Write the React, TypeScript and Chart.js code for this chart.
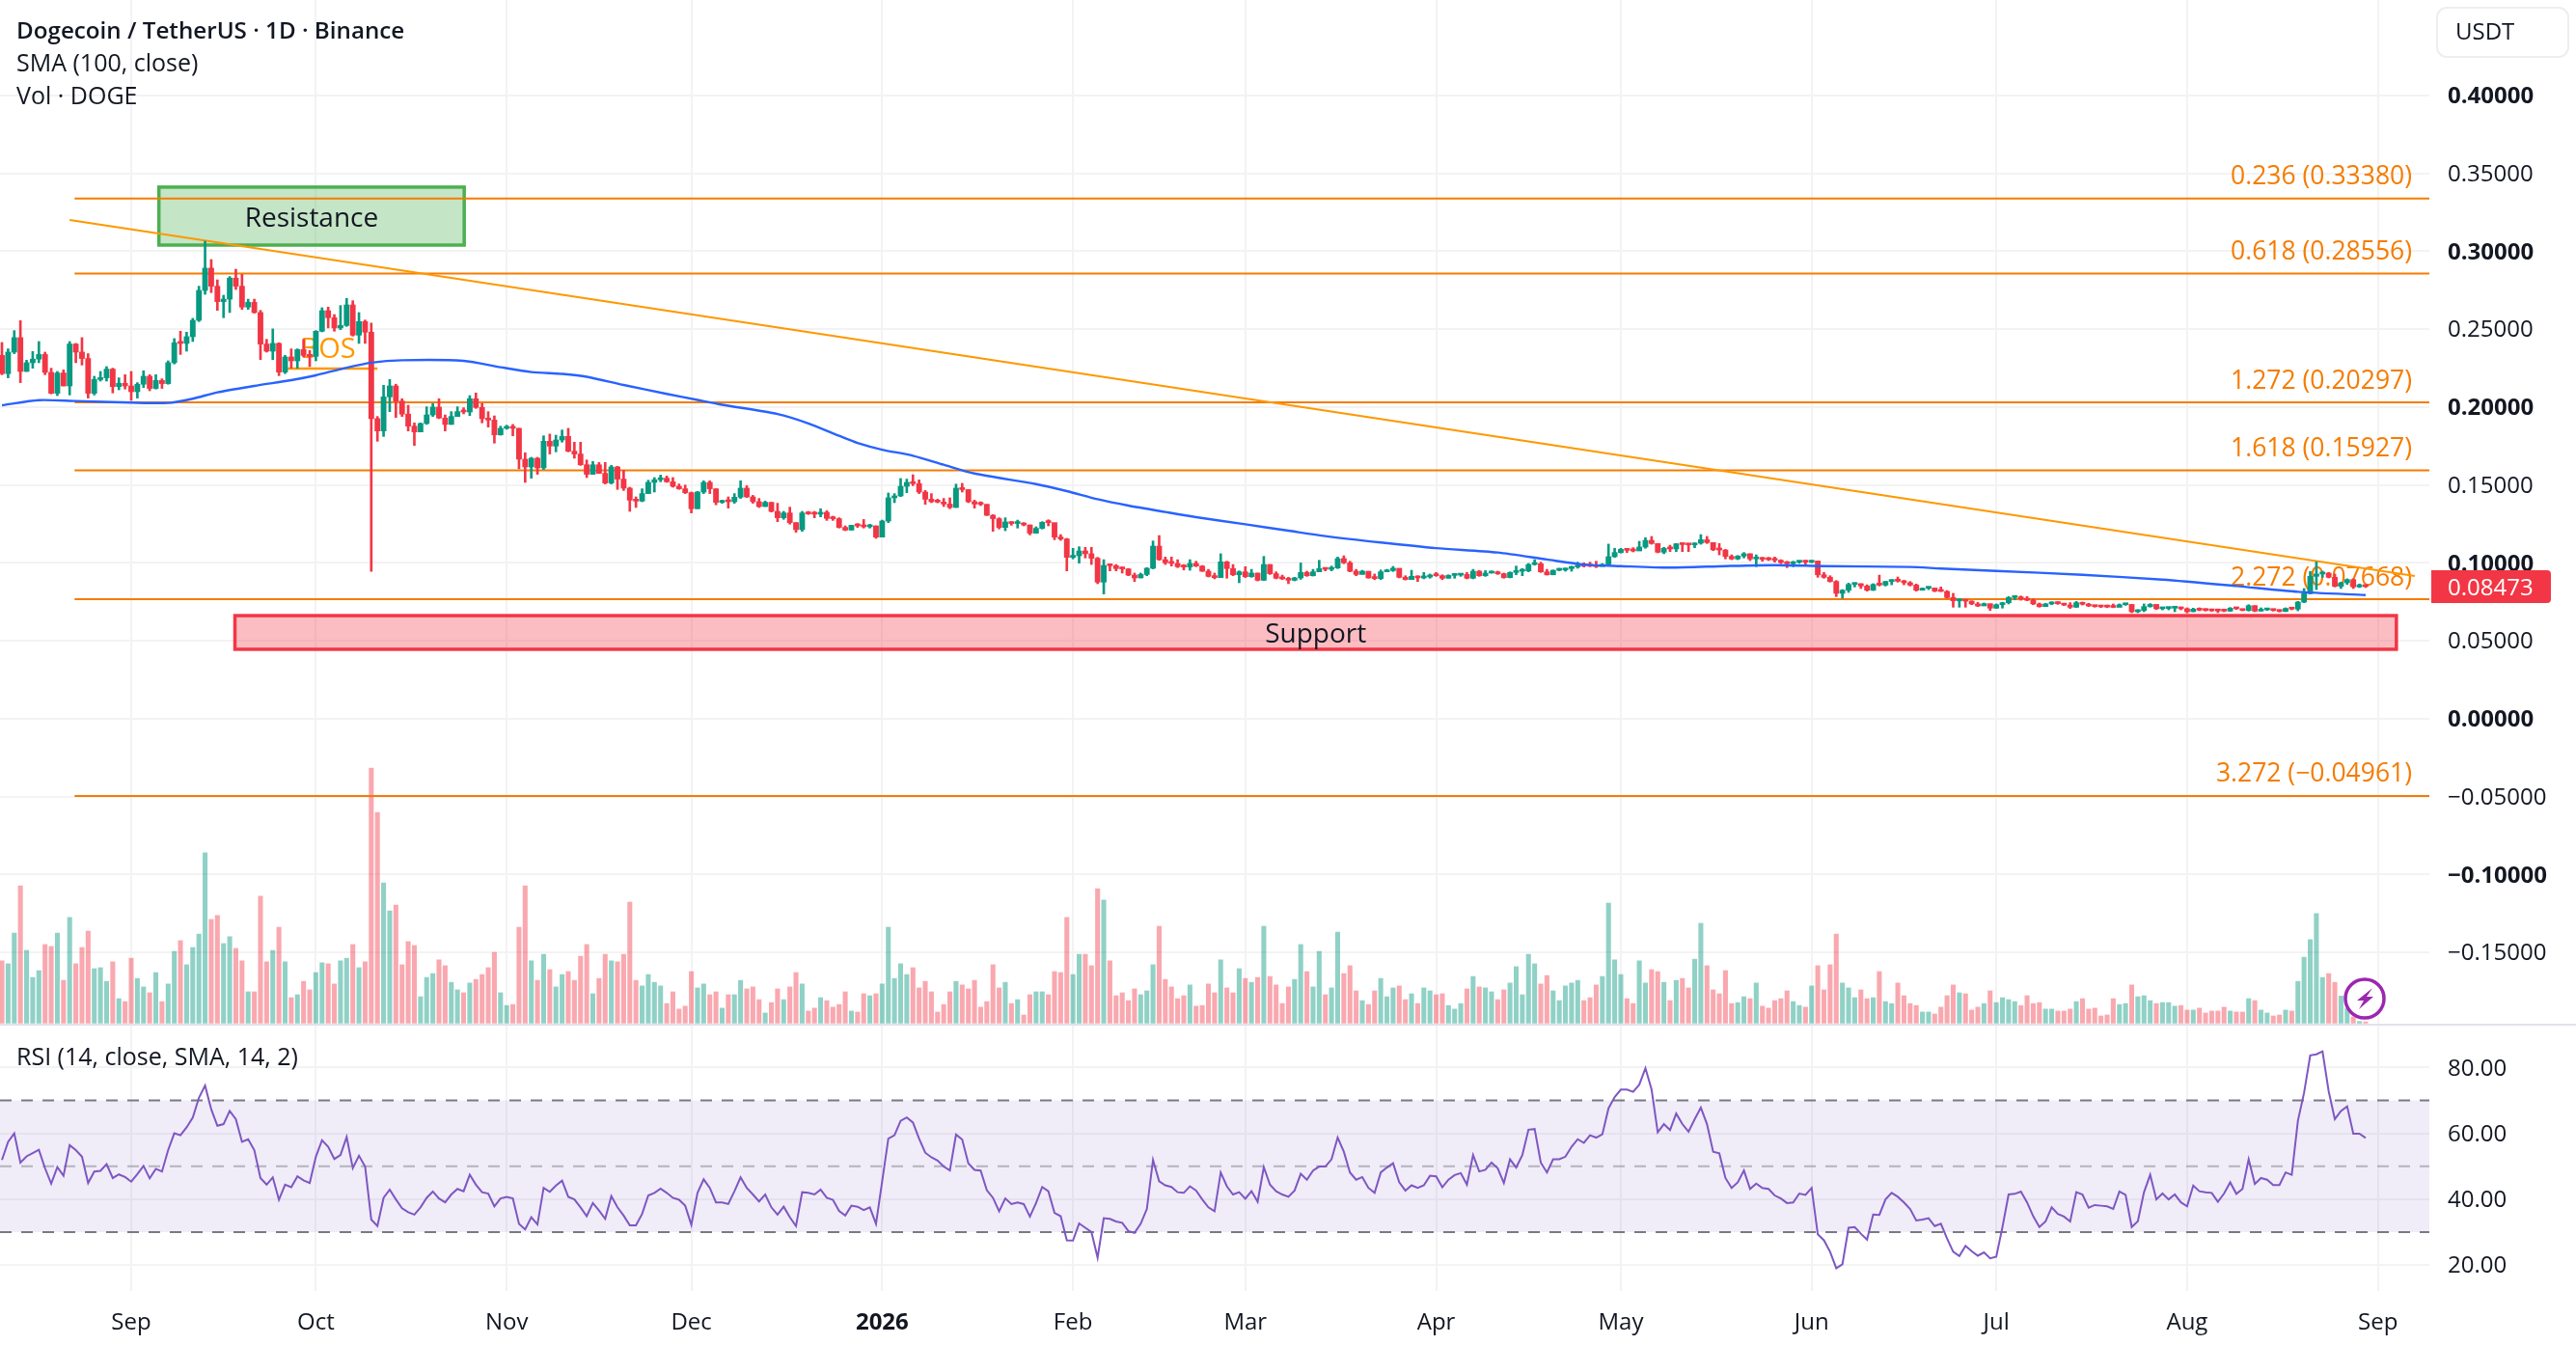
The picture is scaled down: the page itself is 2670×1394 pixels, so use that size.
import React, { useEffect, useRef } from "react";
import { Chart, registerables } from "chart.js";

Chart.register(...registerables);

// ---------- categories / ticks ----------
const firstDay = -21; // days relative to 1 Sep
const firstOpen = 0.2331;
const monthDays = [0, 30, 61, 91, 122, 153, 181, 212, 242, 273, 303, 334, 365];
const monthLabels = ["Sep", "Oct", "Nov", "Dec", "2026", "Feb", "Mar", "Apr", "May", "Jun", "Jul", "Aug", "Sep"];
const priceTicks = [0.4, 0.35, 0.3, 0.25, 0.2, 0.15, 0.1, 0.05, 0, -0.05, -0.1, -0.15];
const boldPriceTicks = [0.4, 0.3, 0.2, 0.1, 0, -0.1];
const rsiTicks = [80, 60, 40, 20];

// ---------- candles ----------
const closes = [
  .2214,.2352,.2445,.2228,.2284,.2307,.2337,.2222,.2088,.2218,.2135,.2404,.2352,.2311,.2088,.2176,.2187,.2243,.2131,.2152,.2135,
  .2098,.2146,.2197,.2119,.2170,.2150,.2284,.2412,.2408,.2451,.2556,.2748,.2891,.2775,.2676,.2692,.2827,.2775,.2641,.2672,
  .2606,.2404,.2358,.2408,.2224,.2321,.2296,.2368,.2331,.2325,.2486,.2618,.2573,.2507,.2523,.2655,.2461,.2548,.2480,.1925,
  .1846,.2065,.2135,.2038,.1954,.1877,.1840,.1894,.1949,.1999,.1929,.1888,.1939,.1970,.1968,.2053,.1997,.1925,.1916,.1821,
  .1863,.1873,.1863,.1665,.1615,.1671,.1609,.1780,.1749,.1788,.1811,.1716,.1698,.1629,.1568,.1629,.1574,.1512,.1615,.1537,
  .1479,.1402,.1396,.1444,.1516,.1533,.1543,.1520,.1491,.1475,.1450,.1347,.1454,.1516,.1475,.1388,.1396,.1392,.1421,.1479,
  .1423,.1392,.1361,.1388,.1330,.1289,.1320,.1258,.1213,.1320,.1314,
  .1312,.1324,.1285,.1283,.1227,.1210,.1241,.1237,.1231,.1237,.1165,.1268,.1417,.1429,.1491,.1516,.1508,.1454,.1408,.1392,
  .1390,.1377,.1355,.1479,.1470,.1392,.1377,.1375,.1305,.1283,.1227,.1262,.1252,.1254,.1243,.1190,.1221,.1260,.1258,.1165,
  .1153,.1035,.1045,.1076,.1058,.1029,.0876,.0983,.0981,.0963,.0961,.0921,.0903,.0925,.0965,.1107,.1020,.1000,.0996,.0975,
  .0973,.0996,.0979,.0946,.0913,.0905,.1006,.0963,.0923,.0942,.0911,.0934,.0888,.0989,.0930,.0901,.0897,.0888,.0903,.0938,
  .0917,.0942,.0963,.0958,.0967,.1027,.1000,.0946,.0925,.0946,.0903,.0899,.0942,.0950,.0965,.0907,.0892,.0913,.0903,.0909,
  .0921,.0917,.0901,.0919,.0921,.0925,.0901,.0946,.0917,.0934,.0942,.0930,.0905,.0938,.0946,.0948,.0989,.0994,.0942,.0923,
  .0952,.0954,.0963,.0973,.0985,.0979,.0978,.0975,.0990,.1039,.1066,
  .1086,.1080,.1076,.1101,.1144,.1124,.1068,.1093,.1089,.1122,.1117,.1115,.1126,.1148,.1130,.1084,.1082,.1041,.1025,.1043,
  .1058,.1025,.1033,.1022,.1020,.1016,.1002,.0994,.1004,.1010,.1004,.1012,.0923,.0907,.0880,.0804,.0824,.0861,.0866,.0851,
  .0824,.0861,.0857,.0880,.0890,.0882,.0872,.0857,.0824,.0837,.0839,.0818,.0816,.0777,.0756,.0762,.0754,.0736,.0723,.0738,
  .0709,.0731,.0744,.0777,.0779,.0769,.0760,.0736,.0719,.0736,.0746,.0738,.0729,.0715,.0744,.0734,.0723,.0719,.0717,.0716,
  .0714,.0731,.0733,.0686,.0694,.0719,.0733,.0705,.0707,.0709,.0711,.0705,.0686,.0703,.0696,.0694,.0692,.0691,.0690,.0709,
  .0705,.0694,.0725,.0690,.0698,.0700,.0694,.0688,.0707,.0703,.0748,.0802,.0913,.0928,.0934,.0907,.0849,.0872,.0892,.0845,
  .0859,.08473,
];
const highs = [
  .2414,.2373,.2490,.2554,.2300,.2356,.2420,.2352,.2249,.2228,.2238,.2420,.2408,.2445,.2342,.2197,.2228,.2259,.2249,.2187,.2207,
  .2228,.2156,.2232,.2207,.2207,.2181,.2296,.2439,.2486,.2480,.2569,.2775,.3064,.2946,.2816,.2717,.2837,.2884,.2851,.2692,
  .2692,.2620,.2434,.2501,.2412,.2331,.2373,.2373,.2434,.2362,.2490,.2637,.2641,.2593,.2651,.2697,.2682,.2606,.2558,.2538,
  .1939,.2139,.2176,.2146,.2053,.2011,.1898,.1898,.2001,.2022,.2053,.1949,.1970,.2001,.1995,.2073,.2090,.2022,.1970,.1943,
  .1877,.1883,.1888,.1863,.1706,.1677,.1677,.1815,.1826,.1819,.1852,.1863,.1774,.1774,.1660,.1650,.1644,.1644,.1625,.1619,
  .1594,.1485,.1423,.1475,.1530,.1547,.1563,.1557,.1547,.1506,.1499,.1454,.1458,.1526,.1526,.1475,.1402,.1423,.1444,.1526,
  .1495,.1433,.1413,.1396,.1388,.1382,.1330,.1357,.1258,.1330,.1330,
  .1330,.1347,.1334,.1299,.1289,.1237,.1241,.1252,.1278,.1247,.1237,.1274,.1448,.1444,.1541,.1537,.1565,.1532,.1464,.1444,
  .1408,.1413,.1417,.1505,.1510,.1466,.1402,.1392,.1375,.1309,.1289,.1289,.1264,.1274,.1258,.1243,.1231,.1264,.1276,.1252,
  .1181,.1157,.1093,.1103,.1099,.1099,.1035,.1020,.0989,.0989,.0973,.0963,.0934,.0934,.0969,.1140,.1175,.1037,.1037,.1020,
  .0989,.1020,.1010,.0983,.0958,.0934,.1058,.1010,.0989,.0948,.0975,.0958,.0934,.1041,.0989,.0942,.0921,.0907,.0907,.0999,
  .0946,.0958,.1016,.0969,.0979,.1037,.1045,.1010,.0958,.0952,.0942,.0928,.0954,.0958,.0977,.0958,.0917,.0952,.0917,.0938,
  .0928,.0938,.0923,.0923,.0928,.0928,.0938,.0958,.0950,.0950,.0948,.0946,.0934,.0942,.0979,.0963,.0996,.1020,.1004,.0958,
  .0954,.0965,.0965,.0979,.1004,.1000,.1004,.1010,.0995,.1120,.1093,
  .1093,.1093,.1097,.1138,.1161,.1169,.1124,.1099,.1113,.1124,.1124,.1124,.1128,.1181,.1169,.1130,.1124,.1086,.1051,.1047,
  .1066,.1058,.1051,.1035,.1035,.1037,.1020,.1010,.1010,.1014,.1016,.1016,.1010,.0938,.0917,.0886,.0828,.0870,.0872,.0866,
  .0859,.0866,.0921,.0882,.0892,.0909,.0888,.0880,.0864,.0839,.0843,.0839,.0845,.0822,.0804,.0769,.0762,.0756,.0746,.0742,
  .0731,.0736,.0746,.0783,.0789,.0787,.0783,.0769,.0742,.0740,.0750,.0750,.0738,.0744,.0752,.0748,.0740,.0727,.0727,.0729,
  .0736,.0736,.0738,.0731,.0700,.0736,.0738,.0731,.0713,.0715,.0717,.0713,.0711,.0709,.0711,.0705,.0703,.0703,.0703,.0713,
  .0711,.0700,.0731,.0725,.0711,.0707,.0703,.0698,.0711,.0709,.0752,.0835,.0944,.1006,.0946,.0938,.0928,.0876,.0897,.0897,
  .0864,.0859,
];
const lows = [
  .2207,.2187,.2342,.2156,.2228,.2249,.2284,.2207,.2084,.2073,.2135,.2077,.2284,.2269,.2057,.2077,.2166,.2166,.2090,.2110,.2115,
  .2042,.2057,.2125,.2104,.2115,.2119,.2146,.2276,.2337,.2358,.2420,.2548,.2723,.2734,.2620,.2573,.2606,.2754,.2626,.2626,
  .2602,.2304,.2352,.2304,.2201,.2214,.2249,.2249,.2321,.2259,.2296,.2482,.2507,.2486,.2496,.2517,.2455,.2408,.2408,.0945,
  .1780,.1811,.1970,.1933,.1939,.1846,.1753,.1840,.1888,.1939,.1925,.1846,.1888,.1939,.1956,.1945,.1991,.1898,.1871,.1768,
  .1819,.1857,.1815,.1603,.1516,.1543,.1568,.1599,.1698,.1712,.1774,.1712,.1671,.1625,.1547,.1568,.1574,.1506,.1506,.1471,
  .1464,.1330,.1355,.1392,.1444,.1454,.1520,.1516,.1485,.1471,.1444,.1320,.1347,.1444,.1444,.1372,.1382,.1351,.1382,.1413,
  .1419,.1382,.1355,.1361,.1326,.1264,.1279,.1248,.1196,.1202,.1310,
  .1289,.1295,.1272,.1272,.1223,.1206,.1210,.1227,.1223,.1223,.1157,.1165,.1258,.1386,.1425,.1450,.1495,.1444,.1375,.1386,
  .1385,.1361,.1347,.1355,.1454,.1386,.1351,.1367,.1303,.1202,.1217,.1206,.1241,.1223,.1237,.1179,.1190,.1217,.1237,.1148,
  .1144,.0948,.1025,.0998,.1031,.0989,.0866,.0800,.0948,.0948,.0934,.0917,.0880,.0903,.0917,.0961,.1016,.0989,.0979,.0969,
  .0954,.0952,.0975,.0944,.0909,.0897,.0905,.0901,.0917,.0872,.0905,.0907,.0884,.0886,.0925,.0897,.0892,.0866,.0884,.0894,
  .0913,.0915,.0952,.0948,.0948,.0963,.0994,.0942,.0917,.0928,.0901,.0892,.0892,.0942,.0944,.0903,.0890,.0905,.0880,.0897,
  .0901,.0913,.0892,.0901,.0901,.0913,.0897,.0897,.0913,.0913,.0934,.0925,.0901,.0903,.0923,.0917,.0942,.0985,.0938,.0921,
  .0923,.0948,.0946,.0946,.0965,.0973,.0975,.0969,.0983,.0983,.1035,
  .1062,.1066,.1070,.1078,.1093,.1119,.1064,.1058,.1072,.1072,.1072,.1072,.1097,.1119,.1124,.1078,.1051,.1025,.1020,.1020,
  .1031,.1014,.0975,.1010,.1014,.1004,.0994,.0969,.0975,.0996,.0989,.1000,.0907,.0901,.0876,.0783,.0773,.0810,.0845,.0835,
  .0818,.0822,.0851,.0851,.0859,.0876,.0859,.0851,.0818,.0824,.0828,.0814,.0816,.0773,.0715,.0715,.0715,.0731,.0719,.0725,
  .0694,.0707,.0709,.0736,.0762,.0760,.0756,.0731,.0715,.0721,.0731,.0733,.0725,.0707,.0713,.0729,.0719,.0715,.0713,.0712,
  .0712,.0721,.0727,.0680,.0680,.0686,.0715,.0700,.0698,.0698,.0686,.0698,.0678,.0686,.0692,.0690,.0688,.0680,.0686,.0688,
  .0700,.0692,.0690,.0686,.0690,.0694,.0690,.0684,.0686,.0698,.0692,.0744,.0800,.0828,.0907,.0903,.0845,.0835,.0861,.0835,
  .0841,.0841,
];

// ---------- volume (relative units) ----------
const volumes = [
  191,182,276,421,223,140,161,241,235,276,131,324,182,232,282,167,170,128,188,75,66,
  199,137,111,93,155,66,120,220,253,179,232,273,522,318,330,244,265,229,191,96,96,389,188,223,294,188,78,87,128,102,
  155,185,182,120,191,199,241,170,188,782,646,430,344,362,179,250,238,81,140,152,194,176,125,102,93,123,134,149,170,217,
  93,54,57,294,421,191,131,211,164,111,149,158,131,205,241,90,137,211,191,188,211,371,131,114,149,125,114,60,96,43,
  52,158,108,120,87,96,46,87,87,131,105,111,72,31,63,105,72,111,155,120,37,
  46,78,69,49,57,96,37,34,90,84,90,120,294,137,182,149,170,108,128,96,34,57,96,128,117,105,131,49,66,179,108,125,60,72,25,
  87,96,96,87,158,155,324,149,211,211,176,412,377,191,84,93,69,105,87,99,179,297,134,111,75,84,117,52,54,120,93,194,108,93,
  167,137,125,140,297,143,117,60,111,134,241,158,111,220,87,108,279,152,176,99,69,57,99,137,81,108,114,72,90,60,108,99,87,
  90,54,43,60,105,143,111,108,96,72,102,123,173,87,211,182,120,146,99,69,114,123,131,69,78,117,143,368,194,149,
  75,60,191,123,164,158,125,69,131,137,108,196,306,176,102,90,161,60,63,81,75,123,52,46,69,75,99,66,54,49,114,176,102,179,273,
  123,108,78,102,75,78,158,66,60,123,84,60,54,34,34,28,49,84,117,93,90,40,49,60,99,63,78,72,66,54,84,60,63,43,43,37,37,43,66,
  75,43,46,22,25,75,57,60,117,81,84,69,60,63,63,52,54,40,40,46,31,37,37,49,37,34,34,75,69,40,31,22,25,40,37,128,202,256,336,
  140,152,125,83,45,19,5,4,
];

// ---------- RSI ----------
const rsiValues = [
  51.9,57.4,60,51.1,53,54,55,49.4,44.7,49.7,47.1,56.4,54.9,52.9,44.9,48.4,48.6,50.6,46.4,47.5,46.7,
  45.3,47.6,50.1,46.3,49.2,48.4,54.9,60,59.4,61.8,64.8,70.8,74.5,67.3,62.3,62.8,66.8,64.3,57.4,58.2,54.9,46.4,44.4,46.6,39.8,
  44.4,43.6,46.9,45.7,44.9,52.9,57.9,55.9,52.2,53.4,58.9,49.4,53.2,49.9,33.8,31.8,40.4,42.9,39.9,37.2,36,35.3,37.5,40.4,42.3,
  40.2,39,41.4,43.1,42.4,47.4,44.4,42.1,41.7,37.8,40.2,40.7,40.2,32.5,30.8,34.5,32.3,43.4,42.2,44.1,45.6,40.7,39.9,37.5,34.8,
  38.8,36.5,34,40.9,37.5,35,32,32,35.5,41.1,41.9,43.2,41.9,40.4,39.8,38,32.2,41.9,46,43.4,39,39,38.5,42.4,46.6,43.4,41.4,39.3,
  41.4,37.5,35.3,37.7,34.5,31.8,42.1,41.9,
  41.4,42.9,40.4,39.8,36.4,35,38,37.7,36.7,37.5,32.5,45.4,58.4,59.4,63.8,64.8,63.3,58.4,54.1,52.7,51.7,49.9,48.7,59.6,58.1,50.9,
  48.9,48.7,42.7,40.4,36.3,40.2,38.5,39,38.5,34.7,38.8,43.7,42.4,35.8,34.8,27.5,27.4,32.6,31.3,30,22.2,34.2,34,33.2,32.8,30.3,
  29.7,32.5,37,51.9,45.4,44.2,43.7,42.1,41.9,43.9,42.6,39.9,37.5,36.3,48.1,43.9,41.4,42.1,40.1,42.4,39.2,49.7,44.4,42.4,41.4,
  40.7,42.6,47.7,45.9,48.7,49.9,49.9,52.1,58.7,54.4,48.1,45.9,46.7,43.4,41.9,48.1,49.6,50.9,45.1,42.6,44.2,43.4,44.2,47.1,46.9,
  43.6,45.9,47.3,47.9,44.4,53.4,48.4,48.9,51.1,49.4,44.9,52.1,49.6,53.4,61.1,61.3,51.1,48.1,52.1,52.1,52.9,55.9,58.2,57.1,59.4,
  58.7,59.7,67.6,71,73.3,
  73.3,72.6,74.8,79.8,73.3,60.3,62.8,61,66,62.8,60.5,64.3,67.8,62.8,54.4,53.9,46.4,43.4,45.1,48.7,43.1,44.7,43.4,43.1,41.1,40.2,
  38.8,39,41.7,41.3,43.4,29.3,27.5,24,19,20.2,31.3,31.5,29.5,27.7,35.3,35.2,39.9,41.9,40.7,39,37,33.5,33.8,34.2,31.8,32.5,28,24,
  22.7,25.8,24.2,22.8,23.8,22,22.5,31.5,41.4,41.6,42.3,39,34.8,31.5,33.2,37.5,35.5,34.7,33.2,42.1,41.4,37.4,38.2,38,37.8,37,42.3,
  41.3,31.5,33.3,42.1,47.4,39.9,41.7,39.9,41.4,39,37.8,44.1,42.4,42.1,41.9,39.2,41.7,45.1,41.6,43.1,52.1,44.6,46.4,45.9,44.3,44.3,
  48.1,47.4,63.8,72.3,83.7,84,84.9,72.8,64.3,66.8,68.2,59.9,59.9,58.6,
];

// ---------- SMA (100) read at these days ----------
const smaDays = [-21,-15,-9,0,6,10,14,20,26,30,34,39,44,54,60,65,70,74,80,87,92,96,105,110,115,118,122,127,132,137,147,152,157,162,168,173,181,188,194,203,212,222,230,236,242,250,259,267,275,289,294,303,317,330,342,352,363];
const smaValues = [.2011,.2044,.2038,.2028,.2026,.2053,.2094,.2135,.2172,.2203,.2243,.2284,.2300,.2296,.2255,.2224,.2212,.2194,.2141,.2084,.2045,.2014,.1955,.1895,.1815,.1769,.1726,.1687,.1629,.1573,.1505,.1460,.1408,.1367,.1326,.1293,.1247,.1206,.1171,.1130,.1094,.1066,.1021,.0989,.0979,.0969,.0979,.0985,.0979,.0973,.0963,.0948,.0923,.0892,.0851,.0814,.0793];

// ---------- drawings ----------
const fibRatios = ["0.236", "0.618", "1.272", "1.618", "2.272", "3.272"];
const fibValues = [0.3338, 0.28556, 0.20297, 0.15927, 0.07668, -0.04961];
const fibStartDay = -9.2;
const trendDays = [-10, 371];
const trendValues = [0.32, 0.0915];
const rsiBand = [70, 30];
const rsiMiddle = 50;
const bosDays = [25.4, 40];
const bosValue = 0.2246;
const resistanceBox = { days: [4.5, 54.1], values: [0.3411, 0.3039], label: "Resistance" };
const supportBox = { days: [16.85, 368], values: [0.0661, 0.0445], label: "Support" };
const lastPrice = 0.08473;

// ---------- style ----------
const PX_PER_DAY = 6.38;
const PLOT_W = 2518;
const PLOT_H = 1338;
const SEP_DAY_PX = 136;
const X_MIN = -SEP_DAY_PX / PX_PER_DAY;
const X_MAX = (PLOT_W - SEP_DAY_PX) / PX_PER_DAY;
const FONT = '"Open Sans", "Noto Sans", sans-serif';
const UP = "#089981";
const DOWN = "#f23645";
const GRID = "#f3f3f4";
const TEXT = "#131722";
const ORANGE = "#f57c00";

const minusFmt = (s: string) => s.replace("-", "\u2212");

function days() {
  return closes.map((_, i) => firstDay + i);
}

const drawingsPlugin = {
  id: "drawings",
  afterLayout(chart: any) {
    // RSI axis shares the price axis' gutter; widen its label clip area
    chart.scales.yRsi.right = 2670;
  },
  beforeDatasetsDraw(chart: any) {
    const { ctx, scales } = chart;
    const x = scales.x;
    const y = scales.y;
    ctx.save();
    // fib labels
    ctx.font = `26.5px ${FONT}`;
    ctx.fillStyle = ORANGE;
    ctx.textAlign = "right";
    ctx.textBaseline = "middle";
    fibValues.forEach((v, i) => {
      ctx.fillText(`${fibRatios[i]} (${minusFmt(v.toFixed(5))})`, 2500, y.getPixelForValue(v) - 22);
    });
    // BOS
    ctx.font = `29px ${FONT}`;
    ctx.fillStyle = "#ff9800";
    ctx.textAlign = "center";
    ctx.fillText("BOS", 340, y.getPixelForValue(bosValue) - 19);
    // boxes
    const box = (b: any, fill: string, stroke: string) => {
      const l = x.getPixelForValue(b.days[0]);
      const r = x.getPixelForValue(b.days[1]);
      const t = y.getPixelForValue(b.values[0]);
      const bt = y.getPixelForValue(b.values[1]);
      ctx.fillStyle = fill;
      ctx.fillRect(l, t, r - l, bt - t);
      ctx.strokeStyle = stroke;
      ctx.lineWidth = 3.5;
      ctx.strokeRect(l, t, r - l, bt - t);
      ctx.fillStyle = TEXT;
      ctx.font = `28px ${FONT}`;
      ctx.textAlign = "center";
      ctx.fillText(b.label, (l + r) / 2, (t + bt) / 2 + 3);
    };
    box(resistanceBox, "rgba(76,175,80,0.32)", "#4caf50");
    box(supportBox, "rgba(242,54,69,0.33)", DOWN);
    ctx.restore();
  },
  afterDraw(chart: any) {
    const { ctx, scales } = chart;
    const y = scales.y;
    ctx.save();
    // pane separator
    ctx.strokeStyle = "#e0e3eb";
    ctx.lineWidth = 2;
    ctx.beginPath();
    ctx.moveTo(0, 1062);
    ctx.lineTo(2670, 1062);
    ctx.stroke();
    // legends
    ctx.textAlign = "left";
    ctx.textBaseline = "middle";
    ctx.fillStyle = TEXT;
    ctx.font = `600 24.2px ${FONT}`;
    ctx.fillText("Dogecoin / TetherUS \u00b7 1D \u00b7 Binance", 17, 33);
    ctx.font = `25px ${FONT}`;
    ctx.fillText("SMA (100, close)", 17, 67);
    ctx.fillText("Vol \u00b7 DOGE", 17, 101);
    ctx.fillText("RSI (14, close, SMA, 14, 2)", 17, 1097);
    // USDT button
    ctx.strokeStyle = "#eceef2";
    ctx.lineWidth = 2;
    ctx.beginPath();
    ctx.roundRect(2526, 8, 136, 51, 10);
    ctx.stroke();
    ctx.font = `24px ${FONT}`;
    ctx.fillStyle = TEXT;
    ctx.fillText("USDT", 2545, 34);
    // last price tag
    const py = y.getPixelForValue(lastPrice);
    ctx.fillStyle = DOWN;
    ctx.beginPath();
    ctx.roundRect(2520, py - 17, 124, 34, [0, 4, 4, 0]);
    ctx.fill();
    ctx.fillStyle = "#ffffff";
    ctx.fillText(lastPrice.toFixed(5), 2537, py + 2);
    // lightning badge
    const cx = 2451;
    const cy = 1035;
    ctx.beginPath();
    ctx.arc(cx, cy, 20, 0, Math.PI * 2);
    ctx.fillStyle = "#ffffff";
    ctx.fill();
    ctx.strokeStyle = "#9c27b0";
    ctx.lineWidth = 3.5;
    ctx.stroke();
    ctx.fillStyle = "#9c27b0";
    ctx.beginPath();
    ctx.moveTo(cx + 8, cy - 11);
    ctx.lineTo(cx - 8, cy + 2);
    ctx.lineTo(cx - 1, cy + 2);
    ctx.lineTo(cx - 6, cy + 11);
    ctx.lineTo(cx + 9, cy - 2);
    ctx.lineTo(cx + 2, cy - 2);
    ctx.closePath();
    ctx.fill();
    ctx.restore();
  },
};

const noPad = (scale: any) => {
  scale.paddingTop = 0;
  scale.paddingBottom = 0;
  scale.paddingLeft = 0;
  scale.paddingRight = 0;
};

export default function App() {
  const ref = useRef<HTMLCanvasElement | null>(null);
  useEffect(() => {
    document.body.style.margin = "0";
    const dayList = days();
    const opens = closes.map((_, i) => (i === 0 ? firstOpen : closes[i - 1]));
    const isUp = closes.map((c, i) => c >= opens[i]);
    const candleColors = isUp.map((u) => (u ? UP : DOWN));
    const volColors = isUp.map((u) => (u ? "rgba(8,153,129,0.45)" : "rgba(242,54,69,0.43)"));
    const hLine = (v: number, from = X_MIN) => [
      { x: from, y: v },
      { x: X_MAX, y: v },
    ];
    const chart = new Chart(ref.current as HTMLCanvasElement, {
      type: "bar",
      plugins: [drawingsPlugin],
      data: {
        datasets: [
          {
            label: "Volume",
            yAxisID: "yVol",
            order: 20,
            grouped: false,
            barThickness: 4.4,
            data: dayList.map((d, i) => ({ x: d, y: volumes[i] })),
            backgroundColor: volColors,
          },
          {
            type: "line",
            label: "RSI band",
            yAxisID: "yRsi",
            order: 19,
            data: hLine(rsiBand[0]),
            borderColor: "#787b86",
            borderWidth: 2,
            borderDash: [12, 10],
            pointRadius: 0,
            fill: { value: rsiBand[1] },
            backgroundColor: "rgba(126,87,194,0.115)",
          },
          {
            type: "line",
            label: "RSI low",
            yAxisID: "yRsi",
            order: 18,
            data: hLine(rsiBand[1]),
            borderColor: "#787b86",
            borderWidth: 2,
            borderDash: [12, 10],
            pointRadius: 0,
          },
          {
            type: "line",
            label: "RSI mid",
            yAxisID: "yRsi",
            order: 18,
            data: hLine(rsiMiddle),
            borderColor: "rgba(120,123,134,0.5)",
            borderWidth: 2,
            borderDash: [12, 10],
            pointRadius: 0,
          },
          ...fibValues.map((v, i) => ({
            type: "line" as const,
            label: `Fib ${fibRatios[i]}`,
            yAxisID: "y",
            order: 10,
            data: hLine(v, fibStartDay),
            borderColor: ORANGE,
            borderWidth: 2,
            pointRadius: 0,
          })),
          {
            type: "line",
            label: "BOS",
            yAxisID: "y",
            order: 9,
            data: bosDays.map((d) => ({ x: d, y: bosValue })),
            borderColor: "#ff9800",
            borderWidth: 2.5,
            pointRadius: 0,
          },
          {
            type: "line",
            label: "Trend",
            yAxisID: "y",
            order: 8,
            data: trendDays.map((d, i) => ({ x: d, y: trendValues[i] })),
            borderColor: "#ff9800",
            borderWidth: 2.2,
            pointRadius: 0,
          },
          {
            label: "Wicks",
            yAxisID: "y",
            order: 5,
            grouped: false,
            barThickness: 2,
            data: dayList.map((d, i) => ({ x: d, y: [lows[i], highs[i]] })),
            backgroundColor: candleColors,
          },
          {
            label: "Bodies",
            yAxisID: "y",
            order: 4,
            grouped: false,
            barThickness: 5.2,
            minBarLength: 2,
            data: dayList.map((d, i) => ({ x: d, y: [opens[i], closes[i]] })),
            backgroundColor: candleColors,
          },
          {
            type: "line",
            label: "SMA",
            yAxisID: "y",
            order: 2,
            data: smaDays.map((d, i) => ({ x: d, y: smaValues[i] })),
            borderColor: "#2962ff",
            borderWidth: 2.4,
            pointRadius: 0,
            tension: 0.25,
          },
          {
            type: "line",
            label: "RSI",
            yAxisID: "yRsi",
            order: 1,
            data: dayList.map((d, i) => ({ x: d, y: rsiValues[i] })),
            borderColor: "#7e57c2",
            borderWidth: 2,
            pointRadius: 0,
          },
        ] as any,
      },
      options: {
        responsive: false,
        animation: false,
        devicePixelRatio: 1,
        parsing: undefined,
        layout: { padding: 0 },
        plugins: { legend: { display: false }, tooltip: { enabled: false } },
        scales: {
          x: {
            type: "linear",
            position: "bottom",
            min: X_MIN,
            max: X_MAX,
            offset: false,
            afterBuildTicks: (s: any) => {
              s.ticks = monthDays.map((value) => ({ value }));
            },
            afterFit: (s: any) => {
              noPad(s);
              s.height = 1394 - PLOT_H;
            },
            grid: { color: GRID, lineWidth: 2, drawTicks: false, offset: false },
            border: { display: false },
            ticks: {
              autoSkip: false,
              maxRotation: 0,
              padding: 19,
              color: TEXT,
              font: (c: any) => ({
                family: FONT,
                size: 24,
                weight: monthLabels[monthDays.indexOf(c.tick?.value)] === "2026" ? "bold" : "normal",
              }),
              callback: (v: any) => monthLabels[monthDays.indexOf(v)],
            },
          },
          yRsi: {
            type: "linear",
            position: "right",
            weight: -1,
            min: 80 - (PLOT_H - 1106.4) / 3.41,
            max: 80 + 1106.4 / 3.41,
            afterBuildTicks: (s: any) => {
              s.ticks = rsiTicks.map((value) => ({ value }));
            },
            afterFit: (s: any) => {
              noPad(s);
              s.width = 0;
            },
            grid: { color: GRID, lineWidth: 2, drawTicks: false },
            border: { display: false },
            ticks: {
              autoSkip: false,
              padding: 19,
              labelOffset: 1.5,
              color: TEXT,
              font: { family: FONT, size: 24 },
              callback: (v: any) => Number(v).toFixed(2),
            },
          },
          y: {
            type: "linear",
            position: "right",
            weight: 0,
            min: (744.8 - PLOT_H) / 1615,
            max: 744.8 / 1615,
            afterBuildTicks: (s: any) => {
              s.ticks = priceTicks.map((value) => ({ value }));
            },
            afterFit: (s: any) => {
              noPad(s);
              s.width = 2670 - PLOT_W;
            },
            grid: { color: GRID, lineWidth: 2, drawTicks: false },
            border: { display: false },
            ticks: {
              autoSkip: false,
              padding: 19,
              labelOffset: 1.5,
              color: TEXT,
              font: (c: any) => ({
                family: FONT,
                size: 24,
                weight: boldPriceTicks.includes(c.tick?.value) ? "bold" : "normal",
              }),
              callback: (v: any) => minusFmt(Number(v).toFixed(5)),
            },
          },
          yVol: {
            type: "linear",
            display: false,
            min: -(PLOT_H - 1060.4) * 2.958,
            max: 1060.4 * 2.958,
          },
        },
      } as any,
    });
    return () => chart.destroy();
  }, []);
  return (
    <div style={{ width: 2670, height: 1394, position: "relative", overflow: "hidden", background: "#fff" }}>
      <canvas ref={ref} width={2670} height={1394} style={{ display: "block", width: 2670, height: 1394 }} />
    </div>
  );
}
